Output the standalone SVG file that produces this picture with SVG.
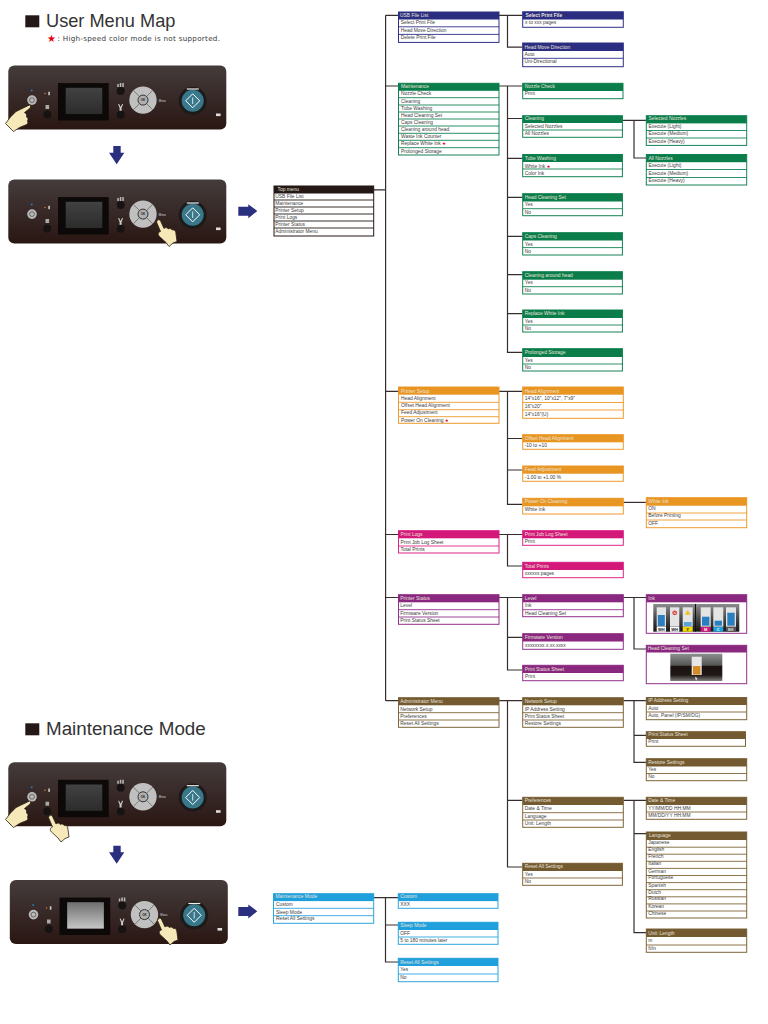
<svg xmlns="http://www.w3.org/2000/svg" width="768" height="1024" viewBox="0 0 768 1024">
<style>
text{font-family:"Liberation Sans",Arial,sans-serif}
.box{fill:#fff;stroke-width:1}
.sep{fill:none;stroke-width:.9}
.th{font-size:4.9px;fill:#e9e4dc}
.tr{font-size:4.9px;fill:#3c3c3c}
.st{font-family:"DejaVu Sans",sans-serif;fill:#e60012;font-size:4.5px}
.c{fill:none;stroke:#352e2c;stroke-width:1.2}
.title{font-size:18.2px;fill:#333}
.sq{fill:#231815}
.arr{fill:#2b2f80}
.k .box,.k .sep{stroke:#231815}.k .hd{fill:#231815}
.n .box,.n .sep{stroke:#2e3188}.n .hd{fill:#2b2e80}
.g .box,.g .sep{stroke:#128255}.g .hd{fill:#0b7d4a}
.o .box,.o .sep{stroke:#ee9a2a}.o .hd{fill:#e99522}
.m .box,.m .sep{stroke:#dc2587}.m .hd{fill:#d4187a}
.p .box,.p .sep{stroke:#92318a}.p .hd{fill:#8a287f}
.b .box,.b .sep{stroke:#7f6538}.b .hd{fill:#735a30}
.l .box,.l .sep{stroke:#2aa5de}.l .hd{fill:#1f9fdb}
.hand{fill:#f6e8b8;stroke:#2a2018;stroke-width:.8;stroke-linejoin:round}
.lbl{font-size:2.8px;fill:#ddd}
.tl{font-size:4px;font-weight:bold;text-anchor:middle}
</style>
<defs>
<linearGradient id="pb" x1="0" y1="0" x2="0" y2="1"><stop offset="0" stop-color="#443c3b"/><stop offset="1" stop-color="#2a1613"/></linearGradient>
<linearGradient id="scr" x1="0" y1="0" x2="0" y2="1"><stop offset="0" stop-color="#424242"/><stop offset="1" stop-color="#2c2c2c"/></linearGradient>
<linearGradient id="scr2" x1="0" y1="0" x2="0" y2="1"><stop offset="0" stop-color="#6e6e6e"/><stop offset="1" stop-color="#c6c6c6"/></linearGradient>
<linearGradient id="ink" x1="0" y1="0" x2="0" y2="1"><stop offset="0" stop-color="#8c8c8c"/><stop offset=".55" stop-color="#444"/><stop offset="1" stop-color="#161616"/></linearGradient>
<linearGradient id="hc" x1="0" y1="0" x2="0" y2="1"><stop offset="0" stop-color="#8d9090"/><stop offset=".42" stop-color="#555"/><stop offset=".47" stop-color="#1b1210"/><stop offset=".78" stop-color="#1f1816"/><stop offset="1" stop-color="#808080"/></linearGradient>
<g id="panel">
<rect x="0" y="0" width="218" height="64" rx="6" fill="url(#pb)"/>
<circle cx="23.4" cy="25" r="1" fill="#2a78b5"/>
<circle cx="23.7" cy="34.6" r="4.8" fill="#b9b9b9"/>
<circle cx="23.7" cy="34.6" r="2.4" fill="none" stroke="#444" stroke-width=".7"/>
<circle cx="36.7" cy="28" r=".8" fill="#c87a20"/>
<rect x="40" y="26.3" width="1.6" height="3.4" fill="#ccc"/>
<rect x="37.2" y="39.5" width="3.6" height="4" fill="#aaa"/>
<circle cx="39" cy="49" r="4" fill="#171312"/>
<rect x="49.7" y="17.6" width="50.7" height="37.4" fill="#0c0908"/>
<rect x="57.4" y="22.3" width="36.6" height="26.3" fill="url(#scr)"/>
<path d="M109 18.500v3h1.500v-3zm2.500-1v4h1.500v-4zm2.500 0v4h1.500v-4z" fill="#bbb"/>
<circle cx="112.400" cy="25.600" r="4" fill="#171312"/>
<path d="M109.800 38.500l1.500 4v3.500h2v-3.500l1.500-4-1 0-1.500 3-1.500-3z" fill="#ccc"/>
<circle cx="112.400" cy="49.300" r="4" fill="#171312"/>
<circle cx="134.700" cy="34.600" r="13.700" fill="#c0c0c0"/>
<path d="M125 24.900l19.400 19.400M144.400 24.900l-19.400 19.400" stroke="#666" stroke-width=".8"/>
<circle cx="134.700" cy="34.600" r="5" fill="#b0b0b0" stroke="#333" stroke-width="1"/>
<text x="134.700" y="35.700" text-anchor="middle" style="font-size:3px;fill:#222;font-weight:bold">OK</text>
<text x="150.500" y="36" class="lbl">Menu</text>
<circle cx="184.400" cy="35.300" r="14" fill="#1d1a1a"/>
<circle cx="184.400" cy="35.300" r="11" fill="#38788a"/>
<path d="M178.500 23.500h12" stroke="#eee" stroke-width="1.200"/>
<path d="M184.400 28.300l7 7-7 7-7-7z" fill="none" stroke="#fff" stroke-width="1"/>
<path d="M184.400 32v6.500" stroke="#fff" stroke-width=".8"/>
<rect x="207.700" y="48" width="4.600" height="2.600" fill="#ddd"/>
</g>
<path id="handA" class="hand" d="M0 0C1.200.6 1.400 2.400 0 3.500L-5 7.500C-3 8.500-2.500 10.500-3 12-1.500 12.500-1 14.500-2 16-1 17.500-2 19.500-4 20L-10 22.500-16 26.500-24 18.500-19 12-13.500 6.500Z"/>
<path id="handB" class="hand" d="M0 0C1.500-.8 2.800 0 3.300 1.500L6.500 8.500C7.500 7 10 7.500 10.700 9 11.700 8 14 8.500 14.700 10 16.200 9.500 18 10.500 18.300 12.500L19.500 21.500 15.500 23 11.500 26.500 8.500 22.500 2 16.500C0 14.500.5 12 3 11.500L-1 2Z"/>
</defs>

<g id="heading-user"><rect class="sq" x="25.300" y="15.300" width="14" height="12"/><text class="title" x="46" y="26.800">User Menu Map</text></g>
<g id="legend"><text x="47" y="42" style="font-family:'DejaVu Sans',sans-serif;font-size:10px;fill:#e60012">★</text><text x="57.500" y="40.800" textLength="162.500" style="font-family:'DejaVu Sans',sans-serif;font-size:7.200px;fill:#3a3a3a">: High-speed color mode is not supported.</text></g>
<g id="heading-maint"><rect class="sq" x="25.300" y="723.300" width="14" height="12"/><text class="title" x="46" y="734.500" style="font-size:18.800px">Maintenance Mode</text></g>

<g id="panel-1"><use href="#panel" transform="translate(8.300 65.500)"/><use href="#handA" transform="translate(29.500 105)"/></g>
<g id="panel-2"><use href="#panel" transform="translate(8.300 179.500)"/><use href="#handB" transform="translate(157.500 220)"/></g>
<g id="panel-3"><use href="#panel" transform="translate(8.300 762.200)"/><use href="#handA" transform="translate(29.500 801)"/><use href="#handB" transform="translate(49.500 815.500)"/></g>
<g id="panel-4"><use href="#panel" transform="translate(9.800 880)"/><rect x="67.200" y="902.300" width="36.600" height="26.300" fill="url(#scr2)"/><use href="#handB" transform="translate(158.500 918.500)"/></g>

<path id="arrow-down-1" class="arr" d="M113.300 146h7.400v6.700h3.600l-7.600 11.600-7.700-11.600h4.300z"/>
<path id="arrow-down-2" class="arr" d="M113.300 845.700h7.400v6.600h3.600l-7.600 11.400-7.700-11.400h4.300z"/>
<path id="arrow-right-1" class="arr" d="M238.300 206.700h10v-2.400l9 6.700-9 7.300v-2.600h-10z"/>
<path id="arrow-right-2" class="arr" d="M238.300 907h10v-2.400l9 6.700-9 7.300v-2.600h-10z"/>

<g id="connectors">
<path class="c" d="M373.700 189.800H385.600M385.600 15.300V700.700M385.600 15.300H398.300M385.600 86H398.300M385.600 391.300H398.300M385.600 534.500H398.300M385.600 597.500H398.300M385.600 700.700H398.300"/>
<path class="c" d="M499 15.300H522.700M507.500 15.300V47.200H522.700"/>
<path class="c" d="M499 86H522.700M507.500 86V352.400H522.700M507.500 118.500H522.700M507.500 158.400H522.700M507.500 197.300H522.700M507.500 236.300H522.700M507.500 274.700H522.700M507.500 313.700H522.700"/>
<path class="c" d="M499 391.300H522.700M507.500 391.300V504.300H522.700M507.500 438.500H522.700M507.500 470H522.700"/>
<path class="c" d="M499 534.500H522.700M507.500 534.500V566H522.700"/>
<path class="c" d="M499 597.500H522.700M507.500 597.500V670H522.700M507.500 637.300H522.700"/>
<path class="c" d="M499 700.700H522.700M507.500 700.700V867H522.700M507.500 800.300H522.700"/>
<path class="c" d="M622.500 120.300H646M634 120.300V158H646"/>
<path class="c" d="M623.300 502.400H646"/>
<path class="c" d="M623.300 597.500H646M634 597.500V649H646"/>
<path class="c" d="M623.300 700.700H646M634 700.700V762.300H646M634 735.300H646"/>
<path class="c" d="M623.300 800.300H646M634 800.300V932.700H646M634 833.700H646"/>
<path class="c" d="M373.700 897.700H398.300M385.500 897.700V962H398.300M385.500 925H398.300"/>
</g>

<g id="top-menu" class="k"><rect class="box" x="274" y="186" width="99.700" height="50"/><rect class="hd" x="274" y="186" width="99.700" height="7.500"/><path class="sep" d="M274 200H373.700M274 207H373.700M274 214H373.700M274 221H373.700M274 228H373.700"/><text class="th" x="277.500" y="191.200">Top menu</text><text class="tr" x="275.300" y="198.400">USB File List</text><text class="tr" x="275.300" y="204.900">Maintenance</text><text class="tr" x="275.300" y="211.800">Printer Setup</text><text class="tr" x="275.300" y="218.800">Print Logs</text><text class="tr" x="275.300" y="225.800">Printer Status</text><text class="tr" x="275.300" y="233.300">Administrator Menu</text></g>

<g id="usb-file-list" class="n"><rect class="box" x="398.500" y="12" width="100.500" height="30.400"/><rect class="hd" x="398.500" y="12" width="100.500" height="7.500"/><path class="sep" d="M398.500 26.800H499M398.500 34.400H499"/><text class="th" x="400" y="16.800">USB File List</text><text class="tr" x="400.700" y="23.800">Select Print File</text><text class="tr" x="400.700" y="31.500">Head Move Direction</text><text class="tr" x="400.700" y="39">Delete Print File</text></g>

<g id="maintenance" class="g"><rect class="box" x="398.500" y="83.300" width="100.500" height="71.700"/><rect class="hd" x="398.500" y="83.300" width="100.500" height="7.500"/><path class="sep" d="M398.500 97.700H499M398.500 105H499M398.500 112H499M398.500 119H499M398.500 126H499M398.500 133.300H499M398.500 140.300H499M398.500 147.700H499"/><text class="th" x="401" y="87.800">Maintenance</text><text class="tr" x="401" y="95.300">Nozzle Check</text><text class="tr" x="401" y="102.700">Cleaning</text><text class="tr" x="401" y="109.800">Tube Washing</text><text class="tr" x="401" y="117">Head Cleaning Set</text><text class="tr" x="401" y="123.800">Caps Cleaning</text><text class="tr" x="401" y="130.800">Cleaning around head</text><text class="tr" x="401" y="138">Waste Ink Counter</text><text class="tr" x="401" y="145">Replace White Ink <tspan class="st">★</tspan></text><text class="tr" x="401" y="152.500">Prolonged Storage</text></g>

<g id="printer-setup" class="o"><rect class="box" x="398.500" y="387" width="100.500" height="36.300"/><rect class="hd" x="398.500" y="387" width="100.500" height="7.700"/><path class="sep" d="M398.500 402.300H499M398.500 409.700H499M398.500 416.700H499"/><text class="th" x="401" y="392.500">Printer Setup</text><text class="tr" x="401" y="400">Head Alignment</text><text class="tr" x="401" y="406.800">Offset Head Alignment</text><text class="tr" x="401" y="414.300">Feed Adjustment</text><text class="tr" x="401" y="421.800">Power On Cleaning <tspan class="st">★</tspan></text></g>

<g id="print-logs" class="m"><rect class="box" x="398.500" y="530.700" width="100.500" height="22.300"/><rect class="hd" x="398.500" y="530.700" width="100.500" height="7.600"/><path class="sep" d="M398.500 546H499"/><text class="th" x="400.500" y="535.800">Print Logs</text><text class="tr" x="400.500" y="543.500">Print Job Log Sheet</text><text class="tr" x="400.500" y="551">Total Prints</text></g>

<g id="printer-status" class="p"><rect class="box" x="398.500" y="594.700" width="100.500" height="29.600"/><rect class="hd" x="398.500" y="594.700" width="100.500" height="7.600"/><path class="sep" d="M398.500 609.700H499M398.500 617H499"/><text class="th" x="400.300" y="599.700">Printer Status</text><text class="tr" x="400.300" y="607.300">Level</text><text class="tr" x="400.300" y="614.800">Firmware Version</text><text class="tr" x="400.300" y="622">Print Status Sheet</text></g>

<g id="administrator-menu" class="b"><rect class="box" x="398.500" y="697.700" width="100.500" height="29.600"/><rect class="hd" x="398.500" y="697.700" width="100.500" height="7.600"/><path class="sep" d="M398.500 712.700H499M398.500 720H499"/><text class="th" x="400.300" y="702.800">Administrator Menu</text><text class="tr" x="400.300" y="710.500">Network Setup</text><text class="tr" x="400.300" y="717.800">Preferences</text><text class="tr" x="400.300" y="724.700">Reset All Settings</text></g>

<g id="maintenance-mode" class="l"><rect class="box" x="273.500" y="893.700" width="100.200" height="29.600"/><rect class="hd" x="273.500" y="893.700" width="100.200" height="7.400"/><path class="sep" d="M273.500 908.300H373.700M273.500 915.700H373.700"/><text class="th" x="275.500" y="898.300">Maintenance Mode</text><text class="tr" x="276" y="905.700">Custom</text><text class="tr" x="276" y="913.500">Sleep Mode</text><text class="tr" x="276" y="920">Reset All Settings</text></g>

<g id="select-print-file" class="n"><rect class="box" x="522.700" y="11.800" width="100.600" height="15.500"/><rect class="hd" x="522.700" y="11.800" width="100.600" height="7.700"/><text class="th" x="525.500" y="16.500" style="font-weight:bold">Select Print File</text><text class="tr" x="525" y="24">x to xxx pages</text></g>
<g id="head-move-direction" class="n"><rect class="box" x="522.700" y="43" width="100.600" height="23.700"/><rect class="hd" x="522.700" y="43" width="100.600" height="8"/><path class="sep" d="M522.700 58.300H623.300"/><text class="th" x="524.500" y="48.700">Head Move Direction</text><text class="tr" x="524.500" y="56">Auto</text><text class="tr" x="524.500" y="62.800">Uni-Directional</text></g>

<g id="nozzle-check" class="g"><rect class="box" x="522.700" y="83.300" width="100.300" height="15.400"/><rect class="hd" x="522.700" y="83.300" width="100.300" height="7.700"/><text class="th" x="524.700" y="87.800">Nozzle Check</text><text class="tr" x="524.700" y="95.300">Print</text></g>
<g id="cleaning" class="g"><rect class="box" x="522.700" y="115.700" width="99.700" height="21.600"/><rect class="hd" x="522.700" y="115.700" width="99.700" height="7.300"/><path class="sep" d="M522.700 130H622.400"/><text class="th" x="524.700" y="120">Cleaning</text><text class="tr" x="524.700" y="127.700">Selected Nozzles</text><text class="tr" x="524.700" y="135">All Nozzles</text></g>
<g id="tube-washing" class="g"><rect class="box" x="522.700" y="154.500" width="99.700" height="22.200"/><rect class="hd" x="522.700" y="154.500" width="99.700" height="7.500"/><path class="sep" d="M522.700 169H622.400"/><text class="th" x="524.700" y="159.700">Tube Washing</text><text class="tr" x="524.700" y="167.500">White Ink <tspan class="st">★</tspan></text><text class="tr" x="524.700" y="174.500">Color Ink</text></g>
<g id="head-cleaning-set" class="g"><rect class="box" x="522.700" y="193.700" width="99.700" height="22"/><rect class="hd" x="522.700" y="193.700" width="99.700" height="7.800"/><path class="sep" d="M522.700 208.700H622.400"/><text class="th" x="524.700" y="199">Head Cleaning Set</text><text class="tr" x="524.700" y="206.300">Yes</text><text class="tr" x="524.700" y="213.500">No</text></g>
<g id="caps-cleaning" class="g"><rect class="box" x="522.700" y="232.700" width="99.700" height="22.300"/><rect class="hd" x="522.700" y="232.700" width="99.700" height="7.800"/><path class="sep" d="M522.700 247.600H622.400"/><text class="th" x="524.700" y="238">Caps Cleaning</text><text class="tr" x="524.700" y="245.500">Yes</text><text class="tr" x="524.700" y="252.500">No</text></g>
<g id="cleaning-around-head" class="g"><rect class="box" x="522.700" y="271.700" width="99.700" height="22.300"/><rect class="hd" x="522.700" y="271.700" width="99.700" height="8"/><path class="sep" d="M522.700 286.700H622.400"/><text class="th" x="524.700" y="276.500">Cleaning around head</text><text class="tr" x="524.700" y="284">Yes</text><text class="tr" x="524.700" y="291.500">No</text></g>
<g id="replace-white-ink" class="g"><rect class="box" x="522.700" y="310" width="99.700" height="22"/><rect class="hd" x="522.700" y="310" width="99.700" height="8"/><path class="sep" d="M522.700 325H622.400"/><text class="th" x="524.700" y="315">Replace White Ink</text><text class="tr" x="524.700" y="323">Yes</text><text class="tr" x="524.700" y="330">No</text></g>
<g id="prolonged-storage" class="g"><rect class="box" x="522.700" y="348.700" width="99.700" height="22.300"/><rect class="hd" x="522.700" y="348.700" width="99.700" height="8.300"/><path class="sep" d="M522.700 364H622.400"/><text class="th" x="524.700" y="354">Prolonged Storage</text><text class="tr" x="524.700" y="361.500">Yes</text><text class="tr" x="524.700" y="369">No</text></g>

<g id="head-alignment" class="o"><rect class="box" x="522.700" y="387" width="100.600" height="31.300"/><rect class="hd" x="522.700" y="387" width="100.600" height="7.700"/><path class="sep" d="M522.700 402.500H623.300M522.700 410H623.300"/><text class="th" x="524.700" y="392.500">Head Alignment</text><text class="tr" x="524.700" y="400">14"x16", 10"x12", 7"x9"</text><text class="tr" x="524.700" y="407.800">16"x20"</text><text class="tr" x="524.700" y="415.500">14"x16"(U)</text></g>
<g id="offset-head-alignment" class="o"><rect class="box" x="522.700" y="434.700" width="100.600" height="14.600"/><rect class="hd" x="522.700" y="434.700" width="100.600" height="7.600"/><text class="th" x="524.700" y="439.500">Offset Head Alignment</text><text class="tr" x="524.700" y="447">-10 to +10</text></g>
<g id="feed-adjustment" class="o"><rect class="box" x="522.700" y="466" width="100.600" height="15.300"/><rect class="hd" x="522.700" y="466" width="100.600" height="7.700"/><text class="th" x="524.700" y="471">Feed Adjustment</text><text class="tr" x="525" y="478.700">-1.00 to +1.00 %</text></g>
<g id="power-on-cleaning" class="o"><rect class="box" x="522.700" y="498.300" width="100.600" height="15.700"/><rect class="hd" x="522.700" y="498.300" width="100.600" height="8"/><text class="th" x="524.700" y="503.400">Power On Cleaning</text><text class="tr" x="524.700" y="511">White Ink</text></g>
<g id="white-ink" class="o"><rect class="box" x="646.300" y="497.700" width="100.400" height="30"/><rect class="hd" x="646.300" y="497.700" width="100.400" height="8"/><path class="sep" d="M646.300 513H746.700M646.300 520H746.700"/><text class="th" x="648.300" y="503">White Ink</text><text class="tr" x="648.300" y="510.300">ON</text><text class="tr" x="648.300" y="517.300">Before Printing</text><text class="tr" x="648.300" y="525">OFF</text></g>

<g id="print-job-log-sheet" class="m"><rect class="box" x="522.700" y="530.700" width="100.600" height="14.600"/><rect class="hd" x="522.700" y="530.700" width="100.600" height="7.600"/><text class="th" x="524.700" y="535.800">Print Job Log Sheet</text><text class="tr" x="524.700" y="543.300">Print</text></g>
<g id="total-prints" class="m"><rect class="box" x="522.700" y="562.300" width="100.600" height="15.400"/><rect class="hd" x="522.700" y="562.300" width="100.600" height="7.700"/><text class="th" x="524.700" y="567.800">Total Prints</text><text class="tr" x="524.700" y="575">xxxxxx pages</text></g>

<g id="level" class="p"><rect class="box" x="522.700" y="594.700" width="100.600" height="22"/><rect class="hd" x="522.700" y="594.700" width="100.600" height="7.600"/><path class="sep" d="M522.700 609.700H623.300"/><text class="th" x="524.700" y="599.500">Level</text><text class="tr" x="525" y="607.300">Ink</text><text class="tr" x="525" y="614.800">Head Cleaning Set</text></g>
<g id="firmware-version" class="p"><rect class="box" x="522.700" y="633.700" width="100.600" height="15.600"/><rect class="hd" x="522.700" y="633.700" width="100.600" height="7.800"/><text class="th" x="524.700" y="638.700">Firmware Version</text><text class="tr" x="525" y="646.500">xxxxxxxx.x.xx.xxxx</text></g>
<g id="print-status-sheet" class="p"><rect class="box" x="522.700" y="665.300" width="100.600" height="15.400"/><rect class="hd" x="522.700" y="665.300" width="100.600" height="7.700"/><text class="th" x="524.700" y="670.700">Print Status Sheet</text><text class="tr" x="525" y="678">Print</text></g>

<g id="ink" class="p"><rect class="box" x="646.300" y="594.700" width="100.400" height="38.600"/><rect class="hd" x="646.300" y="594.700" width="100.400" height="7.600"/><text class="th" x="648.300" y="599.500">Ink</text>
<rect x="653.300" y="604" width="86" height="27.700" fill="url(#ink)"/>
<rect x="695" y="604" width="1" height="27.700" fill="#111"/>
<rect x="656.700" y="607.300" width="9.300" height="19.400" fill="#e4e4e4"/><rect x="657.800" y="615" width="7" height="11" fill="#2a7fc0"/>
<rect x="670" y="607.300" width="9.300" height="19.400" fill="#e4e4e4"/><circle cx="674.700" cy="612.800" r="2.400" fill="#d2403c"/><path d="M673.500 611.600l2.400 2.400m0-2.400l-2.400 2.400" stroke="#fff" stroke-width=".6"/>
<rect x="682.700" y="607.300" width="10" height="19.400" fill="#e4e4e4"/><path d="M687.700 610l2.800 4.800h-5.600z" fill="#f0c020"/><rect x="683.800" y="622" width="7.800" height="4" fill="#5aa5d8"/>
<rect x="700.700" y="607.300" width="10" height="19.400" fill="#e4e4e4"/><rect x="702" y="616.700" width="7.400" height="9" fill="#2a7fc0"/>
<rect x="713.300" y="607.300" width="10" height="19.400" fill="#e4e4e4"/><rect x="714.600" y="620.700" width="7.400" height="5" fill="#2a7fc0"/>
<rect x="726" y="607.300" width="10" height="19.400" fill="#e4e4e4"/><rect x="727.300" y="612.700" width="7.400" height="13" fill="#2a7fc0"/>
<rect x="656.700" y="627" width="9.300" height="4.700" fill="#fff"/><rect x="670" y="627" width="9.300" height="4.700" fill="#fff"/><rect x="682.700" y="627" width="10" height="4.700" fill="#f2d900"/><rect x="700.700" y="627" width="10" height="4.700" fill="#d5177a"/><rect x="713.300" y="627" width="10" height="4.700" fill="#1f9fdb"/><rect x="726" y="627" width="10" height="4.700" fill="#555"/>
<text class="tl" x="661.300" y="631" fill="#111">WH</text><text class="tl" x="674.600" y="631" fill="#111">WH</text><text class="tl" x="687.700" y="631" fill="#111">Y</text><text class="tl" x="705.700" y="631" fill="#fff">M</text><text class="tl" x="718.300" y="631" fill="#fff">C</text><text class="tl" x="731" y="631" fill="#ddd">BK</text></g>

<g id="head-cleaning-set-level" class="p"><rect class="box" x="646.300" y="645.300" width="100.400" height="38.400"/><rect class="hd" x="646.300" y="645.300" width="100.400" height="7.200"/><text class="th" x="647.700" y="649.800">Head Cleaning Set</text>
<rect x="670.300" y="653.700" width="52" height="27.300" fill="url(#hc)"/>
<rect x="691.700" y="656.700" width="10" height="18.300" fill="#e6e6e6"/><rect x="693" y="666" width="7.400" height="8.600" fill="#d68a25"/>
<path d="M695.300 676.500l2.300 2.300-1 .1.500 1.200-.7.300-.5-1.200-.6.500z" fill="#ddd"/></g>

<g id="ip-address-setting" class="b"><rect class="box" x="646.300" y="697.500" width="100.400" height="22.200"/><rect class="hd" x="646.300" y="697.500" width="100.400" height="7.500"/><path class="sep" d="M646.300 712H746.700"/><text class="th" x="648.200" y="702">IP Address Setting</text><text class="tr" x="648.200" y="709.700">Auto</text><text class="tr" x="648.200" y="716.700">Auto, Panel (IP/SM/DG)</text></g>
<g id="print-status-sheet-2" class="b"><rect class="box" x="646.300" y="731.700" width="99.200" height="14.600"/><rect class="hd" x="646.300" y="731.700" width="99.200" height="7.300"/><text class="th" x="648.200" y="736.200">Print Status Sheet</text><text class="tr" x="648.200" y="743">Print</text></g>
<g id="restore-settings" class="b"><rect class="box" x="646.300" y="758.700" width="100.400" height="22"/><rect class="hd" x="646.300" y="758.700" width="100.400" height="7.800"/><path class="sep" d="M646.300 773.500H746.700"/><text class="th" x="648.200" y="763.500">Restore Settings</text><text class="tr" x="648.200" y="770.800">Yes</text><text class="tr" x="648.200" y="778">No</text></g>

<g id="network-setup" class="b"><rect class="box" x="522.700" y="697.700" width="100.600" height="29.600"/><rect class="hd" x="522.700" y="697.700" width="100.600" height="7.600"/><path class="sep" d="M522.700 712.700H623.300M522.700 720H623.300"/><text class="th" x="524.700" y="702.800">Network Setup</text><text class="tr" x="524.700" y="710.500">IP Address Setting</text><text class="tr" x="524.700" y="717.800">Print Status Sheet</text><text class="tr" x="524.700" y="724.800">Restore Settings</text></g>
<g id="preferences" class="b"><rect class="box" x="522.700" y="797.300" width="100.600" height="30"/><rect class="hd" x="522.700" y="797.300" width="100.600" height="7.700"/><path class="sep" d="M522.700 812.700H623.300M522.700 820H623.300"/><text class="th" x="524.700" y="801.900">Preferences</text><text class="tr" x="524.700" y="809.700">Date &amp; Time</text><text class="tr" x="524.700" y="817.500">Language</text><text class="tr" x="524.700" y="824.800">Unit: Length</text></g>
<g id="reset-all-settings" class="b"><rect class="box" x="522.700" y="863.300" width="99.700" height="22"/><rect class="hd" x="522.700" y="863.300" width="99.700" height="7.700"/><path class="sep" d="M522.700 878H622.400"/><text class="th" x="524.700" y="868.200">Reset All Settings</text><text class="tr" x="524.700" y="875.500">Yes</text><text class="tr" x="524.700" y="883">No</text></g>

<g id="date-time" class="b"><rect class="box" x="646.300" y="797.300" width="100.400" height="22"/><rect class="hd" x="646.300" y="797.300" width="100.400" height="7.700"/><path class="sep" d="M646.300 812H746.700"/><text class="th" x="648.200" y="802">Date &amp; Time</text><text class="tr" x="648.200" y="809.700">YY/MM/DD HH:MM</text><text class="tr" x="648.200" y="817">MM/DD/YY HH:MM</text></g>
<g id="language" class="b"><rect class="box" x="646.300" y="832" width="100.400" height="86"/><rect class="hd" x="646.300" y="832" width="100.400" height="8"/><path class="sep" d="M646.300 847.200H746.700M646.300 854.200H746.700M646.300 861.300H746.700M646.300 868.400H746.700M646.300 875.500H746.700M646.300 882.600H746.700M646.300 889.700H746.700M646.300 896.800H746.700M646.300 903.900H746.700M646.300 911H746.700"/><text class="th" x="649" y="836.500">Language</text><text class="tr" x="648.200" y="844.400">Japanese</text><text class="tr" x="648.200" y="851">English</text><text class="tr" x="648.200" y="858">French</text><text class="tr" x="648.200" y="864.900">Italian</text><text class="tr" x="648.200" y="872.800">German</text><text class="tr" x="648.200" y="879.300">Portuguese</text><text class="tr" x="648.200" y="887.200">Spanish</text><text class="tr" x="648.200" y="894">Dutch</text><text class="tr" x="648.200" y="900.300">Russian</text><text class="tr" x="648.200" y="908">Korean</text><text class="tr" x="648.200" y="915">Chinese</text></g>
<g id="unit-length" class="b"><rect class="box" x="646.300" y="929" width="100.400" height="23.300"/><rect class="hd" x="646.300" y="929" width="100.400" height="8"/><path class="sep" d="M646.300 945H746.700"/><text class="th" x="648.200" y="934.500">Unit: Length</text><text class="tr" x="648.200" y="942">m</text><text class="tr" x="648.200" y="949.500">ft/in</text></g>

<g id="selected-nozzles" class="g"><rect class="box" x="646.300" y="115.700" width="100.400" height="29.700"/><rect class="hd" x="646.300" y="115.700" width="100.400" height="7.700"/><path class="sep" d="M646.300 130.500H746.700M646.300 138H746.700"/><text class="th" x="648.500" y="120">Selected Nozzles</text><text class="tr" x="648.500" y="127.700">Execute (Light)</text><text class="tr" x="648.500" y="135">Execute (Medium)</text><text class="tr" x="648.500" y="143">Execute (Heavy)</text></g>
<g id="all-nozzles" class="g"><rect class="box" x="646.300" y="154.500" width="100.400" height="30.500"/><rect class="hd" x="646.300" y="154.500" width="100.400" height="7.700"/><path class="sep" d="M646.300 169.500H746.700M646.300 177.500H746.700"/><text class="th" x="648.500" y="159.700">All Nozzles</text><text class="tr" x="648.500" y="166.800">Execute (Light)</text><text class="tr" x="648.500" y="174.500">Execute (Medium)</text><text class="tr" x="648.500" y="182">Execute (Heavy)</text></g>

<g id="custom" class="l"><rect class="box" x="398.300" y="893.700" width="99.700" height="14.600"/><rect class="hd" x="398.300" y="893.700" width="99.700" height="7.400"/><text class="th" x="400.300" y="898.200">Custom</text><text class="tr" x="400.300" y="905.700">XXX</text></g>
<g id="sleep-mode" class="l"><rect class="box" x="398.300" y="922.300" width="99.700" height="22"/><rect class="hd" x="398.300" y="922.300" width="99.700" height="7.700"/><path class="sep" d="M398.300 937H498"/><text class="th" x="400.300" y="927">Sleep Mode</text><text class="tr" x="400.300" y="934.800">OFF</text><text class="tr" x="400.300" y="941.800">5 to 180 minutes later</text></g>
<g id="reset-all-settings-2" class="l"><rect class="box" x="398.300" y="958.300" width="99.700" height="23.400"/><rect class="hd" x="398.300" y="958.300" width="99.700" height="7.700"/><path class="sep" d="M398.300 974H498"/><text class="th" x="400.300" y="963.500">Reset All Settings</text><text class="tr" x="400.300" y="970.800">Yes</text><text class="tr" x="400.300" y="978.500">No</text></g>
</svg>
